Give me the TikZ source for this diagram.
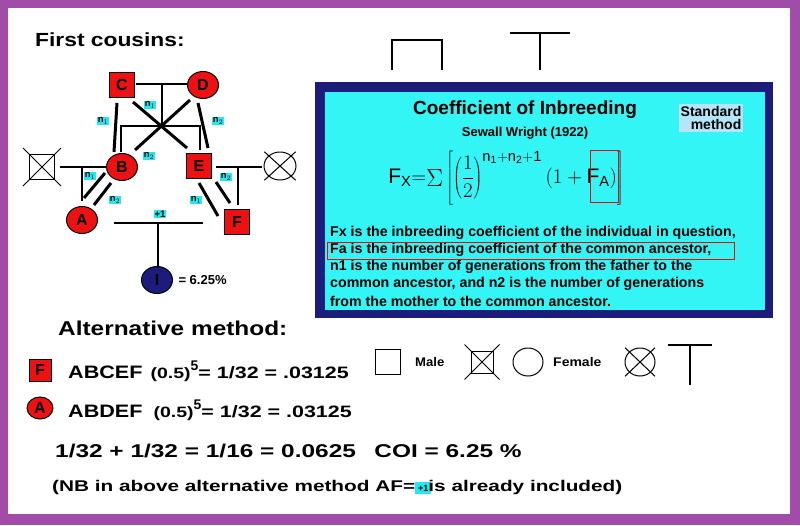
\documentclass[tikz,border=0pt]{standalone}
\usepackage{fontspec}
\setmainfont{Liberation Sans}
\usetikzlibrary{shapes.geometric}
\definecolor{purp}{HTML}{A04CA8}
\definecolor{navy}{HTML}{1C1C7C}
\definecolor{cyanbg}{HTML}{33F5F5}
\definecolor{lab}{HTML}{22E8F0}
\definecolor{redf}{HTML}{EE1111}
\newcommand\wide[2][1.2]{\scalebox{#1}[1]{#2}}
\tikzset{
 x=1pt,y=-1pt,
 sq/.style={draw,line width=1pt,fill=redf,minimum size=25pt,inner sep=0,font=\bfseries\fontsize{16}{16}\selectfont},
 ci/.style={draw,line width=1pt,fill=redf,ellipse,minimum width=31pt,minimum height=27pt,inner sep=0,font=\bfseries\fontsize{16}{16}\selectfont},
 thin/.style={line width=1.3pt},
 thick2/.style={line width=3pt},
 nl/.style={fill=lab,inner sep=0.8pt,font=\bfseries\fontsize{9.5}{9.5}\selectfont},
 txt/.style={anchor=west,inner sep=0,font=\bfseries\fontsize{14.2}{15}\selectfont},
}
\begin{document}
\begin{tikzpicture}
\fill[purp] (0,0) rectangle (800,525);
\fill[white] (8,8) rectangle (790,514);
\useasboundingbox (0,0) rectangle (800,525);
\node[anchor=west,inner sep=0,font=\bfseries\fontsize{19}{19}\selectfont] (t1) at (35,40) {\wide{First cousins:}};
% top symbols
\coordinate (b1) at (392,70); \coordinate (b2) at (392,40); \coordinate (b3) at (442,40); \coordinate (b4) at (442,70);
\draw[thin] (b1)--(b2)--(b3)--(b4);
\coordinate (t2) at (510,33); \coordinate (t3) at (570,33); \coordinate (t4) at (540,33); \coordinate (t5) at (540,70);
\draw[thin] (t2)--(t3) (t4)--(t5);
% box
\fill[navy] (315,82) rectangle (773,318);
\fill[cyanbg] (325,92) rectangle (765,310);
\node[font=\bfseries\fontsize{19}{19}\selectfont] (title) at (525,110) {Coefficient of Inbreeding};
\node[font=\bfseries\fontsize{13}{13}\selectfont] (sw) at (525,133) {Sewall Wright (1922)};
\node[fill=cyan!30!white,align=right,inner sep=2pt,font=\bfseries\fontsize{14}{13}\selectfont] (std) at (711,118) {Standard\\method};
\node (form) at (506,178) {\fontsize{21}{21}\selectfont $\displaystyle\mathrm{F_X}{=}\vcenter{\hbox{\fontsize{34}{34}\selectfont$\Sigma$}}\left[\left(\frac{1}{2}\right)^{\mathrm{n_1+n_2+1}}\left(1+\mathrm{F_A}\right)\right]$};
\draw[red,line width=1pt] (590,150) rectangle (618,202);
\node[txt] (l1) at (330,233) {Fx is the inbreeding coefficient of the individual in question,};
\node[txt] (l2) at (330,250) {Fa is the inbreeding coefficient of the common ancestor,};
\node[txt] (l3) at (330,267) {n1 is the number of generations from the father to the};
\node[txt] (l4) at (330,284) {common ancestor, and n2 is the number of generations};
\node[txt] (l5) at (330,301) {from the mother to the common ancestor.};
\draw[red,line width=1pt] (327,242) rectangle (734,259);
% pedigree lines
\coordinate (cd1) at (136,84); \coordinate (cd2) at (189,84); \coordinate (cdm) at (162,84); \coordinate (cdd) at (162,127);
\draw[thin] (cd1)--(cd2) (cdm)--(cdd);
\coordinate (s1) at (121,152); \coordinate (s2) at (121,126); \coordinate (s3) at (200,126); \coordinate (s4) at (200,150);
\draw[thin] (s1)--(s2)--(s3)--(s4);
\coordinate (lm1) at (60,167); \coordinate (lm2) at (106,167); \coordinate (lmm) at (82,167); \coordinate (lmd) at (82,201);
\draw[thin] (lm1)--(lm2) (lmm)--(lmd);
\coordinate (rm1) at (216,167); \coordinate (rm2) at (262,167); \coordinate (rmm) at (238,167); \coordinate (rmd) at (238,205);
\draw[thin] (rm1)--(rm2) (rmm)--(rmd);
\coordinate (im1) at (114,223); \coordinate (im2) at (203,223); \coordinate (imm) at (158,223); \coordinate (imd) at (158,266);
\draw[thin] (im1)--(im2) (imm)--(imd);
% thick path lines
\coordinate (p1) at (117,103); \coordinate (p2) at (114,152); \draw[thick2] (p1)--(p2);
\coordinate (p3) at (133,102); \coordinate (p4) at (187,148); \draw[thick2] (p3)--(p4);
\coordinate (p5) at (190,100); \coordinate (p6) at (135,150); \draw[thick2] (p5)--(p6);
\coordinate (p7) at (198,103); \coordinate (p8) at (208,148); \draw[thick2] (p7)--(p8);
\coordinate (p9) at (105,173); \coordinate (p10) at (84,198); \draw[thick2] (p9)--(p10);
\coordinate (p11) at (111,183); \coordinate (p12) at (94,205); \draw[thick2] (p11)--(p12);
\coordinate (p13) at (199,183); \coordinate (p14) at (218,216); \draw[thick2] (p13)--(p14);
\coordinate (p15) at (216,182); \coordinate (p16) at (230,203); \draw[thick2] (p15)--(p16);
% individuals
\node[sq] (C) at (122,85) {C};
\node[ci] (D) at (203,85) {D};
\node[ci] (B) at (122,167) {B};
\node[sq] (E) at (199,166) {E};
\node[ci] (A) at (82,220) {A};
\node[sq] (F) at (237,222) {F};
\node[ci,fill=navy] (I) at (157,280) {I};
\node[anchor=west,font=\bfseries\fontsize{13}{13}\selectfont] (pct) at (175,280) {= 6.25\%};
\node[draw,line width=1pt,minimum size=25pt,fill=white] (lx) at (42,167) {};
\draw[line width=1pt] ([shift={(-6,-6)}]lx.north west)--([shift={(6,6)}]lx.south east) ([shift={(-6,6)}]lx.south west)--([shift={(6,-6)}]lx.north east);
\node[draw,line width=1pt,ellipse,minimum width=32pt,minimum height=28pt,fill=white] (rx) at (280,166) {};
\draw[line width=1pt] ([shift={(-4,-4)}]rx.north west)--([shift={(4,4)}]rx.south east) ([shift={(-4,4)}]rx.south west)--([shift={(4,-4)}]rx.north east);
% labels
\node[nl] (n1) at (103,121) {n$_1$};
\node[nl] (n2) at (150,105) {n$_1$};
\node[nl] (n3) at (218,121) {n$_2$};
\node[nl] (n4) at (149,156) {n$_2$};
\node[nl] (n5) at (90,176) {n$_1$};
\node[nl] (n6) at (115,200) {n$_2$};
\node[nl] (n7) at (226,177) {n$_2$};
\node[nl] (n8) at (196,200) {n$_1$};
\node[nl] (n9) at (160,214) {+1};
% alternative
\node[anchor=west,inner sep=0,font=\bfseries\fontsize{20}{20}\selectfont] (alt) at (58,328) {\wide[1.22]{Alternative method:}};
\node[sq,minimum size=22pt] (F2) at (40,370) {F};
\node[anchor=west,inner sep=0,font=\bfseries\fontsize{18}{18}\selectfont] (r1) at (68,371) {\wide{ABCEF}\hspace{8pt}\wide[1.3]{\fontsize{15}{15}\selectfont(0.5)}\raisebox{8pt}{\fontsize{14}{14}\selectfont 5}\wide[1.3]{\fontsize{16.5}{16}\selectfont= 1/32 = .03125}};
\node[ci,minimum width=26pt,minimum height=22pt] (A2) at (40,408) {A};
\node[anchor=west,inner sep=0,font=\bfseries\fontsize{18}{18}\selectfont] (r2) at (68,410) {\wide{ABDEF}\hspace{11pt}\wide[1.3]{\fontsize{15}{15}\selectfont(0.5)}\raisebox{8pt}{\fontsize{14}{14}\selectfont 5}\wide[1.3]{\fontsize{16.5}{16}\selectfont= 1/32 = .03125}};
\node[anchor=west,inner sep=0,font=\bfseries\fontsize{18.5}{18}\selectfont] (r3) at (55,451) {\wide[1.32]{1/32 + 1/32 = 1/16 = 0.0625\hspace{14pt}COI = 6.25 \%}};
\node[anchor=west,inner sep=0,font=\bfseries\fontsize{15.5}{16}\selectfont] (r4) at (52,487) {\wide[1.34]{(NB in above alternative method AF=}\colorbox{lab}{\fontsize{9}{9}\selectfont +1}\hspace{-3pt}\wide[1.34]{is already included)}};
% legend
\node[draw,line width=1pt,minimum size=25pt] (male) at (388,362) {};
\node[anchor=west,inner sep=0,font=\bfseries\fontsize{12.5}{12}\selectfont] (mt) at (415,362) {\wide[1.05]{Male}};
\node[draw,line width=1pt,minimum size=22pt] (mx) at (482,362) {};
\draw[line width=1pt] ([shift={(-6,-6)}]mx.north west)--([shift={(6,6)}]mx.south east) ([shift={(-6,6)}]mx.south west)--([shift={(6,-6)}]mx.north east);
\node[draw,line width=1pt,ellipse,minimum width=30pt,minimum height=28pt] (fem) at (528,362) {};
\node[anchor=west,inner sep=0,font=\bfseries\fontsize{12.5}{12}\selectfont] (ft) at (553,362) {\wide[1.12]{Female}};
\node[draw,line width=1pt,ellipse,minimum width=30pt,minimum height=28pt] (fx) at (640,362) {};
\draw[line width=1pt] ([shift={(-4,-4)}]fx.north west)--([shift={(4,4)}]fx.south east) ([shift={(-4,4)}]fx.south west)--([shift={(4,-4)}]fx.north east);
\coordinate (u1) at (668,345); \coordinate (u2) at (712,345); \coordinate (u3) at (690,345); \coordinate (u4) at (690,385);
\draw[thin] (u1)--(u2) (u3)--(u4);
\end{tikzpicture}
\end{document}
